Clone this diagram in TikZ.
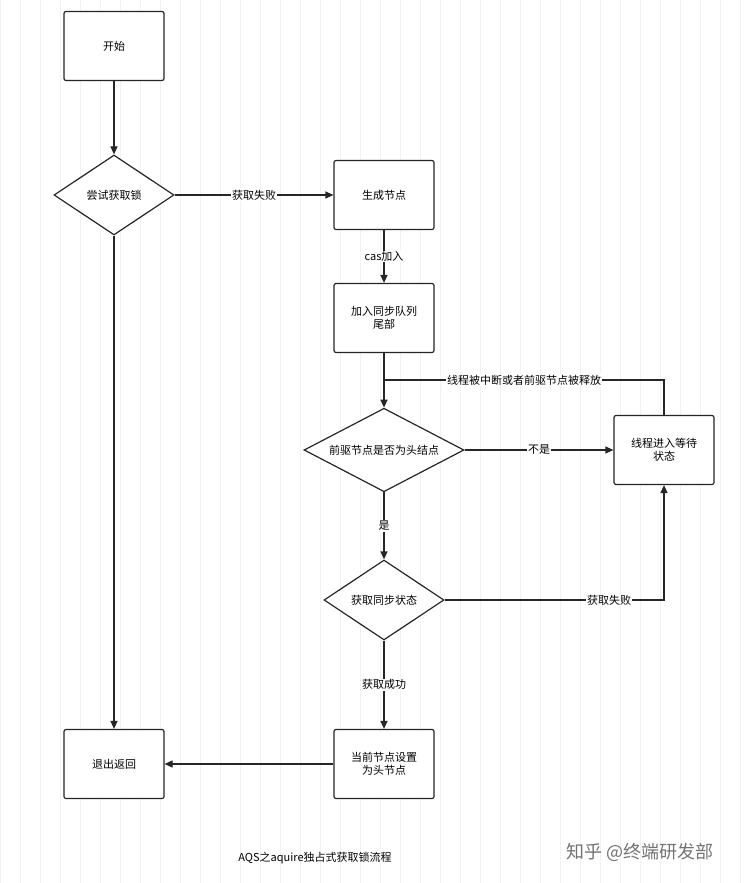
\documentclass[tikz,border=0pt]{standalone}
\usepackage{fontspec}
\setmainfont{Noto Sans CJK SC}
\usetikzlibrary{shapes.geometric,arrows.meta}
\begin{document}
\begin{tikzpicture}[x=1pt,y=-1pt,
  box/.style={draw=black!85,line width=1.2pt,rounded corners=2pt,minimum width=100pt,minimum height=69pt,align=center,font=\fontsize{11}{13.5}\selectfont,fill=white},
  dia/.style={draw=black!85,line width=1.2pt,diamond,aspect=1.5,inner sep=0pt,align=center,font=\fontsize{11}{13.5}\selectfont,fill=white},
  arr/.style={draw=black!85,line width=1.2pt,-{Triangle[length=8pt,width=7pt]}},
  ln/.style={draw=black!85,line width=1.2pt},
  lab/.style={fill=white,font=\fontsize{11}{13.5}\selectfont,inner sep=1pt}]
\useasboundingbox (0,0) rectangle (751,883);
\fill[white] (0,0) rectangle (751,883);
\draw[black!5,line width=0.5pt] (0,0) grid[step=20] (751,883);
\node[box] (start) at (114,46) {开始};
\node[dia,minimum width=120pt,minimum height=80pt] (try) at (114,195) {尝试获取锁};
\node[box] (gen) at (384,195) {生成节点};
\node[box] (add) at (384,318) {加入同步队列\\尾部};
\node[dia,minimum width=160pt,minimum height=80pt] (pre) at (384,450) {前驱节点是否为头结点};
\node[box] (wait) at (664,450) {线程进入等待\\状态};
\node[dia,minimum width=120pt,minimum height=80pt] (get) at (384,600) {获取同步状态};
\node[box] (cur) at (384,764) {当前节点设置\\为头节点};
\node[box] (exit) at (114,764) {退出返回};
\coordinate (j) at (384,380);
\coordinate (wt) at (664,380);
\coordinate (gr) at (664,600);
\draw[arr] (start) -- (try);
\draw[arr] (try) -- node[lab]{获取失败} (gen);
\draw[arr] (gen) -- node[lab]{cas加入} (add);
\draw[arr] (add) -- (pre);
\draw[arr] (pre) -- node[lab]{不是} (wait);
\draw[ln] (wait) -- (wt) -- node[lab]{线程被中断或者前驱节点被释放} (j);
\draw[arr] (pre) -- node[lab]{是} (get);
\draw[arr] (get) -- node[lab,pos=0.75]{获取失败} (gr) -- (wait);
\draw[arr] (get) -- node[lab]{获取成功} (cur);
\draw[arr] (cur) -- (exit);
\draw[arr] (try) -- (exit);
\node[font=\fontsize{11}{13.5}\selectfont] (cap) at (315,858) {AQS之aquire独占式获取锁流程};
\node[font=\fontsize{18}{21}\selectfont,text=black!55] (wm) at (640,852) {知乎 @终端研发部};
\end{tikzpicture}
\end{document}
